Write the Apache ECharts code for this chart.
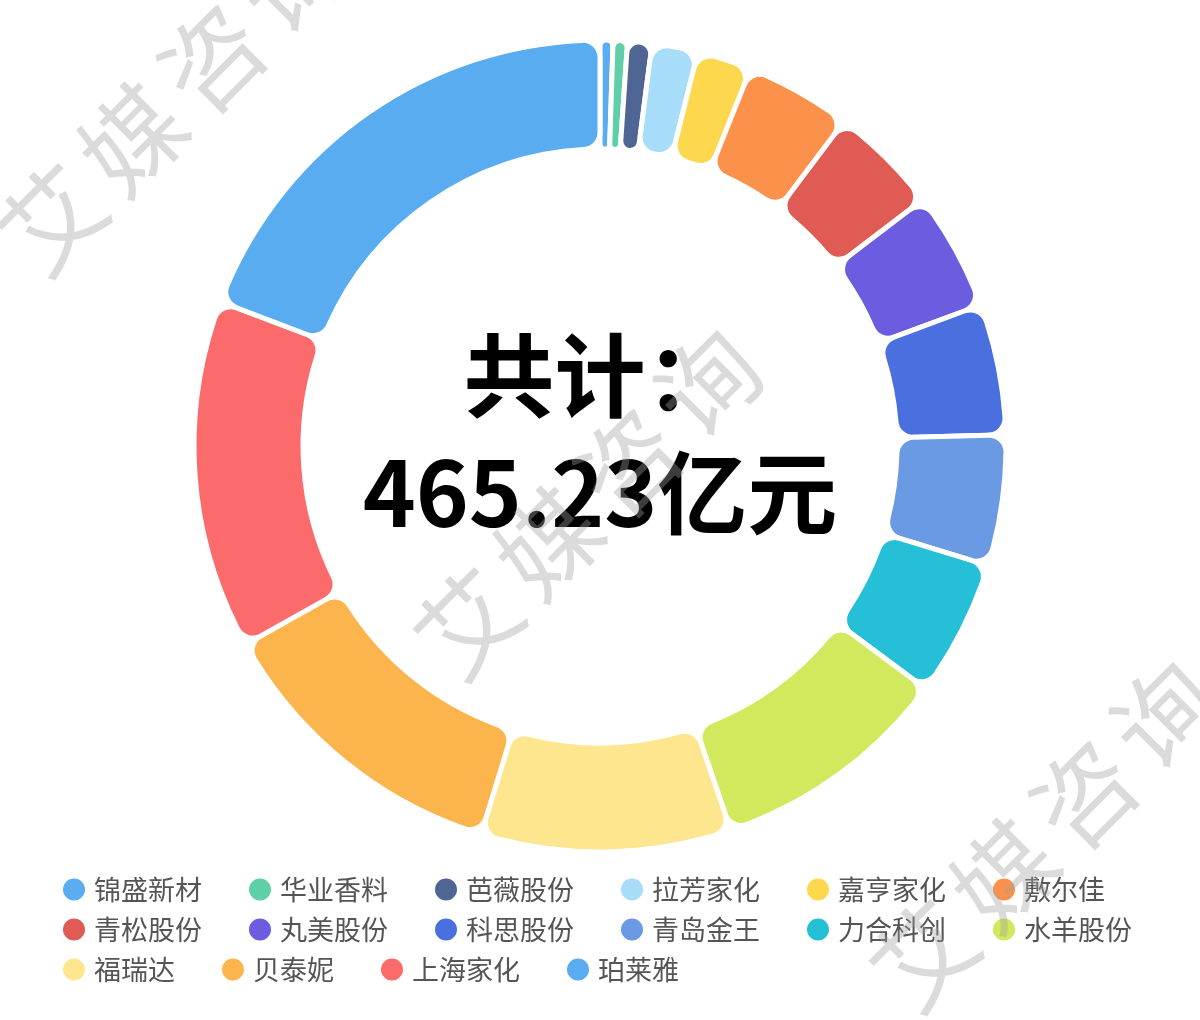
<!DOCTYPE html>
<html>
<head>
<meta charset="utf-8">
<script src="https://cdn.jsdelivr.net/npm/echarts@6/dist/echarts.min.js"></script>
<style>
html,body{margin:0;padding:0;background:#fff;}
#chart{width:1200px;height:1020px;}
</style>
</head>
<body>
<div id="chart"></div>
<script>
const categories = ['锦盛新材','华业香料','芭薇股份','拉芳家化','嘉亨家化','敷尔佳','青松股份','丸美股份','科思股份','青岛金王','力合科创','水羊股份','福瑞达','贝泰妮','上海家化','珀莱雅'];
const values = [2.39, 2.65, 4.50, 8.50, 10.10, 19.60, 20.30, 22.00, 24.20, 24.20, 25.30, 44.60, 46.30, 56.50, 64.70, 89.39];
const colors = ['#5aadf1','#5ecfa6','#4f6593','#a7ddf8','#fdd84f','#fb914a','#e15b55','#6c5de0','#4a6fdf','#6b9ae5','#25c0d8','#d3e95d','#fde68e','#fcb54c','#fc6b6b','#5aacf1'];
const legendRows = [categories.slice(0, 6), categories.slice(6, 12), categories.slice(12)];
const totalPrefix = '共计：';
const totalUnit = '亿元';
const watermarkText = '艾媒咨询';

const FONT = '"Noto Sans CJK SC", "Noto Sans", sans-serif';
const total = values.reduce((a, b) => a + b, 0).toFixed(2);

const chart = echarts.init(document.getElementById('chart'));

// watermark characters
const wmCenters = [[172, 99], [588, 503], [1044, 835]];
const wmAngle = 45 * Math.PI / 180;
const wmPitch = 113;
const wmChars = watermarkText.split('');
const watermark = [];
wmCenters.forEach(c => {
  wmChars.forEach((ch, i) => {
    const d = (i - (wmChars.length - 1) / 2) * wmPitch;
    watermark.push({
      type: 'text',
      x: c[0] + d * Math.cos(wmAngle),
      y: c[1] - d * Math.sin(wmAngle),
      rotation: wmAngle,
      z: 100,
      silent: true,
      style: {
        text: ch,
        fontSize: 100,
        fontFamily: FONT,
        fontWeight: 'normal',
        fill: 'rgba(160,160,160,0.38)',
        align: 'center',
        verticalAlign: 'middle'
      }
    });
  });
});

const option = {
  backgroundColor: '#fff',
  animation: false,
  color: colors,
  legend: legendRows.map((row, i) => ({
    data: row,
    left: 56,
    top: 871 + i * 40,
    orient: 'horizontal',
    icon: 'circle',
    itemWidth: 30,
    itemHeight: 24,
    itemGap: 45,
    selectedMode: false,
    textStyle: { fontSize: 27, color: '#555', fontFamily: FONT }
  })),
  series: [{
    type: 'pie',
    center: [600, 446],
    radius: [297, 406],
    startAngle: 90,
    clockwise: true,
    avoidLabelOverlap: false,
    label: { show: false },
    labelLine: { show: false },
    emphasis: { disabled: true },
    itemStyle: { borderRadius: 17, borderColor: '#fff', borderWidth: 5 },
    data: categories.map((name, i) => ({ name, value: values[i] }))
  }],
  graphic: [
    {
      type: 'text', x: 600, y: 375, z: 50,
      style: { text: totalPrefix, fontSize: 91, fontWeight: 'bold', fontFamily: FONT, fill: '#000', align: 'center', verticalAlign: 'middle' }
    },
    {
      type: 'text', x: 600, y: 493, z: 50,
      style: { text: total + totalUnit, fontSize: 90, fontWeight: 'bold', fontFamily: FONT, fill: '#000', align: 'center', verticalAlign: 'middle' }
    }
  ].concat(watermark)
};
chart.setOption(option);
</script>
</body>
</html>
